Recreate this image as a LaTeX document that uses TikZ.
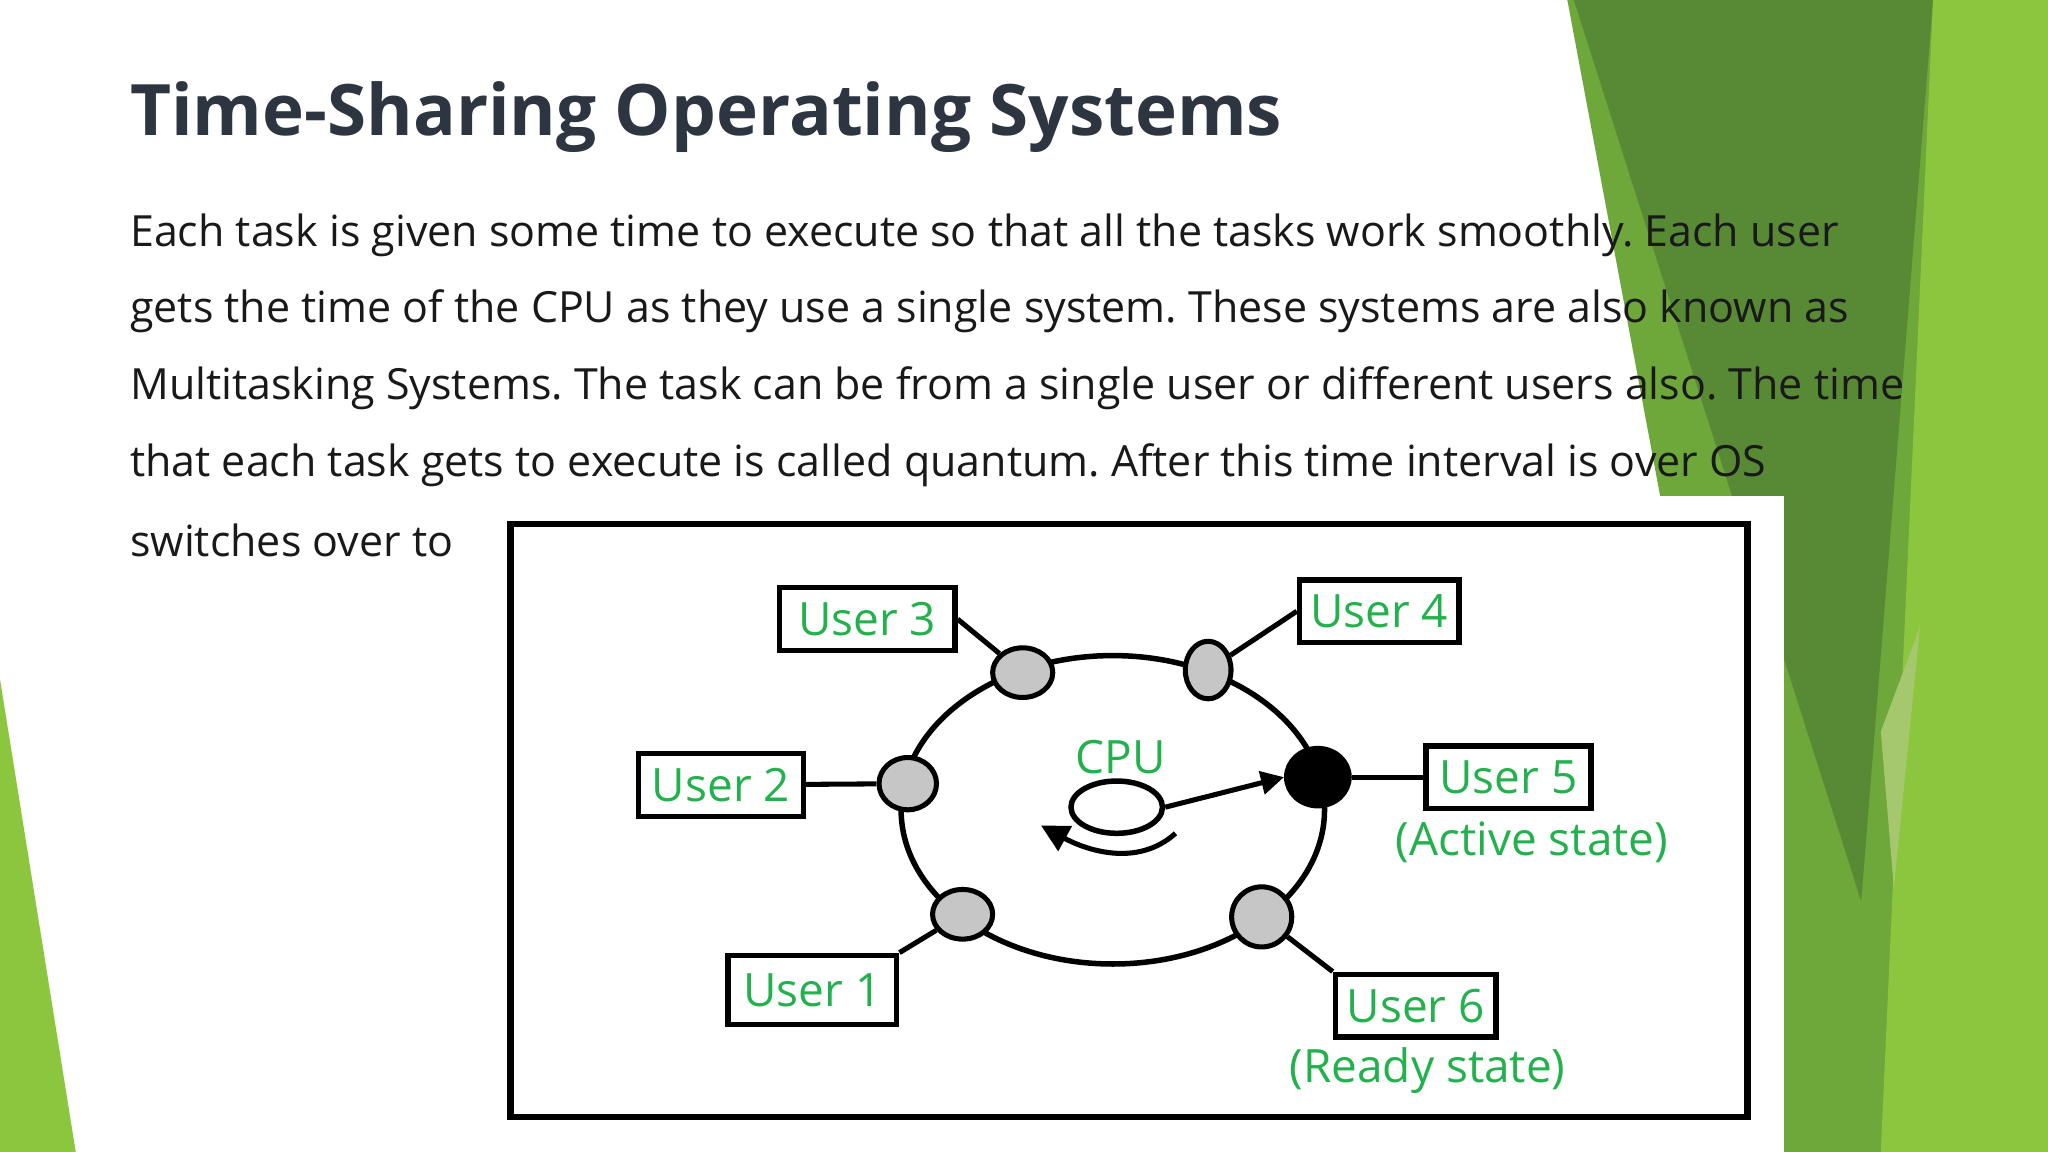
\documentclass[tikz,border=0pt]{standalone}
\usepackage{fontspec}
\setmainfont{Open Sans}
\usetikzlibrary{shapes.geometric,arrows.meta}
\definecolor{titlec}{HTML}{2C3540}
\definecolor{ugreen}{HTML}{22B14C}
\definecolor{gmain}{HTML}{6FA83A}
\definecolor{gdark}{HTML}{588A36}
\definecolor{glight}{HTML}{8CC63F}
\definecolor{gpale}{HTML}{A5C86E}
\tikzset{
 body/.style={anchor=west,inner sep=0,font=\fontsize{9.35pt}{11pt}\selectfont\frenchspacing,text=black!90},
 ubox/.style={draw,line width=1.2pt,minimum width=#1,minimum height=0.48cm,inner sep=0,font=\fontsize{10pt}{12pt}\selectfont,text=ugreen},
 port/.style={draw,ellipse,line width=1.1pt,fill=gray!45,inner sep=0},
 wire/.style={line width=1.1pt},
 note/.style={font=\fontsize{10pt}{12pt}\selectfont,text=ugreen,inner sep=0}
}
\begin{document}
\begin{tikzpicture}[x=0.01cm,y=-0.01cm]
\useasboundingbox (0,0) rectangle (1568,882);
\fill[white] (0,0) rectangle (1568,882);
% green decoration
\fill[gmain] (1200,0) -- (1568,0) -- (1568,882) -- (1365,882) -- cycle;
\fill[gdark] (1205,0) -- (1480,0) -- (1425,690) -- cycle;
\fill[glight] (1480,0) -- (1568,0) -- (1568,882) -- (1440,882) -- cycle;
\fill[gpale] (1440,560) -- (1470,480) -- (1450,680) -- cycle;
\fill[glight] (0,520) -- (0,882) -- (58,882) -- cycle;
% text
\node[anchor=west,inner sep=0,font=\fontsize{15.45pt}{18pt}\selectfont\bfseries,text=titlec] (title) at (99,90) {Time-Sharing Operating Systems};
\node[body] (l1) at (99,180) {Each task is given some time to execute so that all the tasks work smoothly. Each user};
\node[body] (l2) at (99,238) {gets the time of the CPU as they use a single system. These systems are also known as};
\node[body] (l3) at (99,297) {Multitasking Systems. The task can be from a single user or different users also. The time};
\node[body] (l4) at (99,356) {that each task gets to execute is called quantum. After this time interval is over OS};
\node[body] (l5) at (99,414) {switches over to the next task.};
% diagram image
\fill[white] (354,380) rectangle (1366,882);
\draw[line width=1.4pt] (391,401) rectangle (1338,855);
\node[draw,ellipse,line width=1.2pt,minimum width=3.24cm,minimum height=2.36cm] (ring) at (852,620) {};
\node[port,minimum width=0.46cm,minimum height=0.38cm] (p3) at (783,515) {};
\node[port,minimum width=0.35cm,minimum height=0.44cm] (p4) at (925,513) {};
\node[port,minimum width=0.44cm,minimum height=0.40cm] (p2) at (695,600) {};
\node[port,minimum width=0.46cm,minimum height=0.38cm] (p1) at (737,700) {};
\node[port,minimum width=0.46cm,minimum height=0.46cm] (p6) at (966,702) {};
\node[port,fill=black,minimum width=0.48cm,minimum height=0.44cm] (p5) at (1009,595) {};
\node[ubox=1.34cm] (u3) at (664,474) {User 3};
\node[ubox=1.22cm] (u4) at (1056,468) {User 4};
\node[ubox=1.26cm] (u2) at (552,601) {User 2};
\node[ubox=1.26cm] (u5) at (1155,595) {User 5};
\node[ubox=1.29cm,minimum height=0.53cm] (u1) at (622,758) {User 1};
\node[ubox=1.23cm] (u6) at (1084,770) {User 6};
\draw[wire] (u3.east) -- (p3);
\draw[wire] (u4.west) -- (p4);
\draw[wire] (u2) -- (p2);
\draw[wire] (u5) -- (p5);
\draw[wire] (u1.north east) -- (p1);
\draw[wire] (u6.north west) -- (p6);
\node[note] (cpu) at (858,580) {CPU};
\node[draw,ellipse,line width=1.2pt,minimum width=0.7cm,minimum height=0.4cm] (core) at (855,618) {};
\draw[wire,-{Triangle[length=5pt,width=5pt]}] (core.east) -- (p5.west);
\coordinate (cs) at (900,638);
\coordinate (ce) at (797,632);
\draw[wire,-{Triangle[length=6pt,width=6pt]}] (cs) .. controls (870,665) and (830,650) .. (ce);
\node[note] (act) at (1173,645) {(Active state)};
\node[note] (rdy) at (1093,820) {(Ready state)};
\end{tikzpicture}
\end{document}
